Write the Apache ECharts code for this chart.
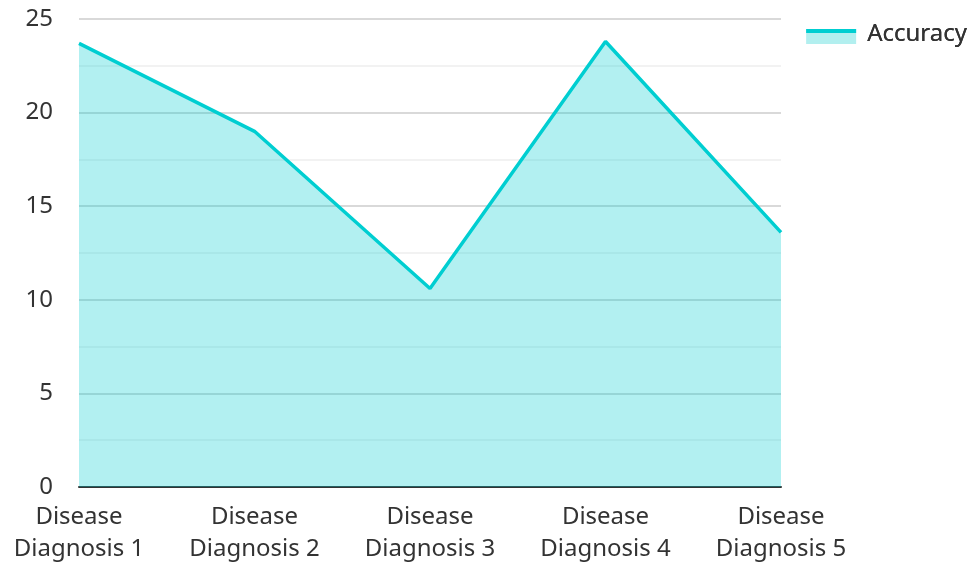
<!DOCTYPE html>
<html><head><meta charset="utf-8">
<script src="https://cdn.jsdelivr.net/npm/echarts@6/dist/echarts.min.js"></script>
<style>html,body{margin:0;padding:0;background:#fff}#c{width:971px;height:562px}</style>
</head><body><div id="c"></div>
<script>
const categories = ["Disease\nDiagnosis 1","Disease\nDiagnosis 2","Disease\nDiagnosis 3","Disease\nDiagnosis 4","Disease\nDiagnosis 5"];
const accuracy = [23.7, 19.0, 10.6, 23.8, 13.6];
const seriesName = "Accuracy";
const chart = echarts.init(document.getElementById('c'));
const legendText = {fontSize:24,color:'#333',fontFamily:'Noto Sans',padding:[0,0,0,6]};
chart.setOption({
  animation:false,
  textStyle:{fontFamily:'Noto Sans'},
  legend:[
    {right:4, top:22, padding:0, itemWidth:50, itemHeight:20, itemGap:10,
     icon:'path://M0,0H50V0Z M0,5H50V20H0Z',
     itemStyle:{color:'#b2efef',borderWidth:0}, textStyle:legendText, data:[seriesName]},
    {right:4, top:22, padding:0, itemWidth:50, itemHeight:20, itemGap:10,
     icon:'path://M0,0H50V0Z M0,5H50V9H0Z M0,20H50V20Z', itemStyle:{color:'#00CED1',borderWidth:0},
     textStyle:legendText, data:[seriesName]}
  ],
  grid:{left:79, right:190, top:19, bottom:75, outerBoundsMode:'none', containLabel:false},
  xAxis:{type:'category', data:categories, boundaryGap:false,
    axisLine:{lineStyle:{color:'#333',width:2}}, axisTick:{show:false},
    axisLabel:{fontSize:24,color:'#333',lineHeight:32,margin:14,interval:0}},
  yAxis:{type:'value', min:0, max:25, interval:5,
    axisLine:{show:false}, axisTick:{show:false},
    axisLabel:{fontSize:24,color:'#333',margin:26},
    splitLine:{lineStyle:{color:'#ccc',width:1.5}},
    minorTick:{show:false, splitNumber:2},
    minorSplitLine:{show:true, lineStyle:{color:'#eee',width:1.5}}},
  series:[{name:seriesName, type:'line', data:accuracy, symbol:'none',
    lineStyle:{color:'#00CED1',width:3.5}, itemStyle:{color:'#00CED1'},
    areaStyle:{color:'#00CED1',opacity:0.3}}]
});
</script></body></html>
